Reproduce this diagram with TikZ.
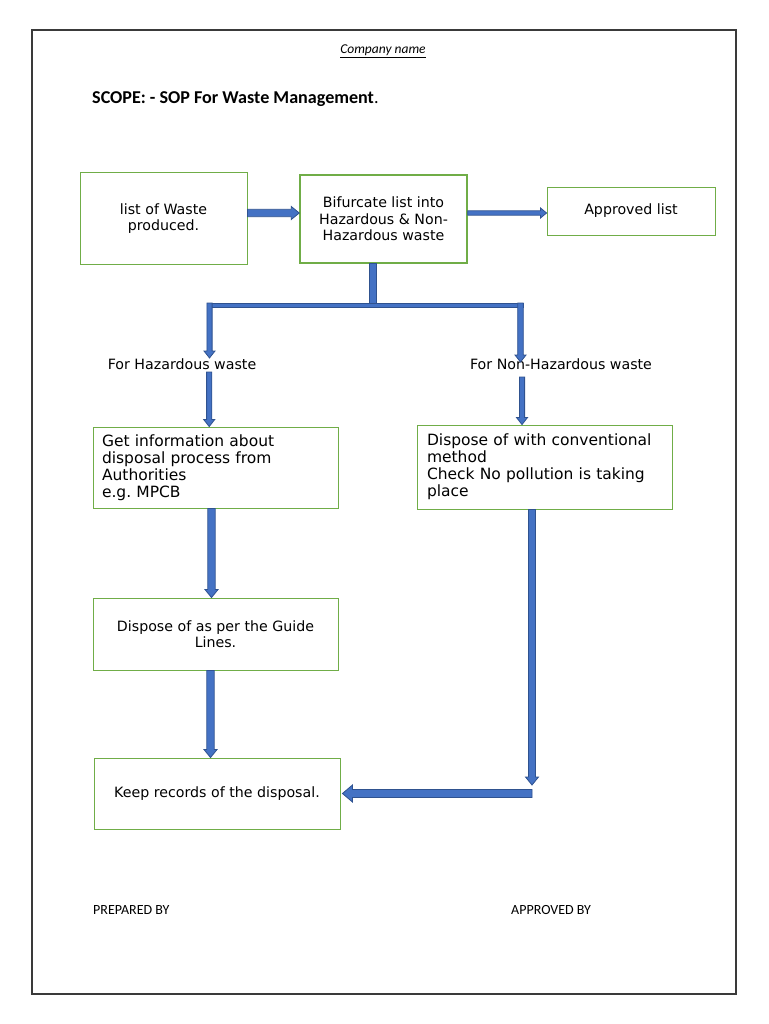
\documentclass[tikz,border=0pt]{standalone}
\usepackage{fontspec}
\setmainfont{DejaVu Sans}
\newfontfamily\calibri{Carlito}
\usepackage{tikz}
\usetikzlibrary{calc}
\usetikzlibrary{positioning}
\frenchspacing
\definecolor{boxgreen}{HTML}{70AD47}
\definecolor{arrowblue}{HTML}{4472C4}
\definecolor{arrowline}{HTML}{2F528F}
\definecolor{framegray}{HTML}{3A3A3A}
% block arrow: from, to, half shaft, half head, head length
\newcommand{\blockarrow}[5]{%
  \coordinate (ba-neck) at ($(#2)!#5!(#1)$);
  \path[arrow body] ($(#1)!#3!90:(#2)$) -- ($(ba-neck)!#3!90:(#2)$)
    -- ($(ba-neck)!#4!90:(#2)$) -- (#2) -- ($(ba-neck)!#4!-90:(#2)$)
    -- ($(ba-neck)!#3!-90:(#2)$) -- ($(#1)!#3!-90:(#2)$) -- cycle;}
% block bar without head: from, to, half width
\newcommand{\blockbar}[3]{%
  \path[arrow body] ($(#1)!#3!90:(#2)$) -- ($(#2)!#3!-90:(#1)$)
    -- ($(#2)!#3!90:(#1)$) -- ($(#1)!#3!-90:(#2)$) -- cycle;}

\begin{document}
\begin{tikzpicture}[x=1pt,y=-1pt,
    box/.style={draw=boxgreen,line width=0.9pt,inner sep=0pt,align=center,font=\fontsize{14.2}{16.5}\selectfont},
    bigbox/.style={box,align=left,font=\fontsize{15.5}{17}\selectfont},
    branch/.style={inner sep=0pt,font=\fontsize{14.2}{16.5}\selectfont},
    foot text/.style={anchor=base west,inner sep=0pt,font=\calibri\fontsize{14}{16}\selectfont},
    arrow body/.style={fill=arrowblue,draw=arrowline,line width=0.8pt,line join=miter}]
  \useasboundingbox (0,0) rectangle (768,1024);
  \draw[framegray,line width=1.2pt] (32,30) rectangle (736,994);

  % header
  \node[anchor=base,inner sep=0pt,font=\calibri\itshape\fontsize{13.5}{16}\selectfont] (company) at (383,54) {\underline{Company name}};
  \node[anchor=base west,inner sep=0pt,font=\calibri\fontsize{18.1}{22}\selectfont] (scope) at (92,104) {\textbf{SCOPE: - SOP For Waste Management}.};

  % boxes
  \node[box,minimum width=167pt,minimum height=92pt] (waste) at (163.5,218.5) {list of Waste\\produced.};
  \node[box,line width=1.4pt,minimum width=167pt,minimum height=88pt] (bifurcate) at (383.5,219) {Bifurcate list into\\Hazardous \& Non-\\Hazardous waste};
  \node[box,minimum width=168pt,minimum height=48pt] (approved) at (631,211) {Approved list};
  \node[branch] (haz) at (182,364) {For Hazardous waste};
  \node[branch] (nonhaz) at (561,364) {For Non-Hazardous waste};
  \node[bigbox,text width=227pt,inner xsep=9pt,minimum height=81pt] (authority) at (215.5,467.5) {Get information about\\disposal process from\\Authorities\\e.g. MPCB};
  \node[bigbox,text width=235pt,inner xsep=10pt,minimum height=84pt] (conventional) at (544.5,467) {Dispose of with conventional\\method\\Check No pollution is taking\\place};
  \node[box,minimum width=245pt,minimum height=72pt] (guide) at (215.5,634) {Dispose of as per the Guide\\Lines.};
  \node[box,minimum width=246pt,minimum height=71pt] (records) at (217,793.5) {Keep records of the disposal.};

  % footer
  \node[foot text] (prepared) at (93,914) {PREPARED BY};
  \node[foot text] (approvedby) at (511,914) {APPROVED BY};

  % connector points
  \coordinate (a1) at ([yshift=5.5pt]waste.east);
  \coordinate (a2) at (a1 -| bifurcate.west);
  \coordinate (b1) at ([yshift=6pt]bifurcate.east);
  \coordinate (b2) at (b1 -| approved.west);
  \coordinate (split) at (373,305.5);
  \coordinate (stemtop) at (split |- bifurcate.south);
  \coordinate (barleft) at (207,305.5);
  \coordinate (barright) at (523,305.5);
  \coordinate (hazstart) at (209.5,303);
  \coordinate (hazin) at (209.5,358);
  \coordinate (nonhazstart) at (520.5,303);
  \coordinate (nonhazin) at (520.5,362);
  \coordinate (hazout) at (209.2,372);
  \coordinate (authin) at (hazout |- authority.north);
  \coordinate (nonhazout) at (522,377);
  \coordinate (convin) at (nonhazout |- conventional.north);
  \coordinate (dout) at ([xshift=-4pt]authority.south);
  \coordinate (fin) at (dout |- guide.north);
  \coordinate (fout) at ([xshift=-5pt]guide.south);
  \coordinate (gin) at (fout |- records.north);
  \coordinate (eout) at ([xshift=-12.5pt]conventional.south);
  \coordinate (eend) at (eout |- 0,785);
  \coordinate (corner) at (eout |- records.east);
  \coordinate (gend) at ([xshift=2pt]records.east);

  % arrows
  \blockarrow{a1}{a2}{3.7pt}{6.5pt}{8pt}
  \blockarrow{b1}{b2}{2.2pt}{5pt}{6pt}
  \blockbar{stemtop}{split}{3.7pt}
  \blockbar{barleft}{barright}{2.3pt}
  \blockarrow{hazstart}{hazin}{2.6pt}{5.5pt}{7pt}
  \blockarrow{nonhazstart}{nonhazin}{2.8pt}{5.5pt}{7pt}
  \blockarrow{hazout}{authin}{2.6pt}{5.5pt}{7pt}
  \blockarrow{nonhazout}{convin}{2.6pt}{5.5pt}{7pt}
  \blockarrow{dout}{fin}{3.7pt}{6.5pt}{8pt}
  \blockarrow{fout}{gin}{3.7pt}{6.5pt}{8pt}
  \blockarrow{eout}{eend}{3.5pt}{6.5pt}{8pt}
  \blockarrow{corner}{gend}{4pt}{8.5pt}{10pt}
\end{tikzpicture}
\end{document}
